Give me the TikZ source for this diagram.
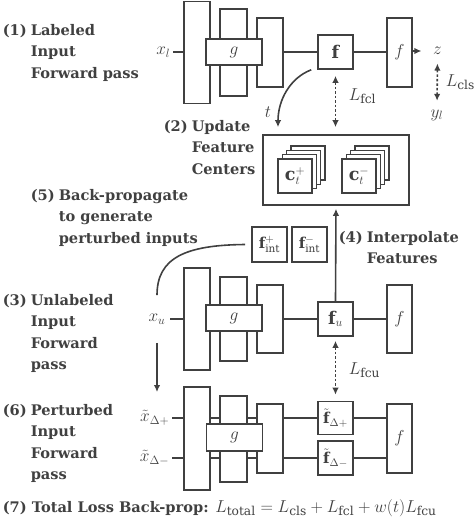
\documentclass[tikz,border=0pt]{standalone}
\usepackage{fontspec}
\setmainfont{DejaVu Serif}
\usetikzlibrary{arrows.meta}
\definecolor{ink}{HTML}{404040}
\newcommand{\stk}[2]{\begin{tabular}[t]{@{}l@{\hspace{4pt}}l@{}}#1&#2\end{tabular}}
\begin{document}
\begin{tikzpicture}[x=1pt,y=-1pt,line width=1.6pt,
  blk/.style 2 args={draw=ink,fill=white,line width=1.6pt,inner sep=0pt,minimum width=#1,minimum height=#2},
  lab/.style={text=ink,inner sep=0pt,font=\fontsize{17.5}{20}\selectfont},
  slab/.style={text=ink,inner sep=0pt,font=\fontsize{15}{18}\selectfont},
  stxt/.style={text=ink,inner sep=0pt,anchor=base west,font=\fontsize{14.6}{21.5}\selectfont\bfseries},
  arr/.style={draw=ink,-{Latex[length=7pt,width=6.5pt]}},
  dbl/.style={draw=ink,{Latex[length=7pt,width=6.5pt]}-{Latex[length=7pt,width=6.5pt]},dash pattern=on 2.5pt off 2pt},
  ln/.style={draw=ink}]
\useasboundingbox (0,0) rectangle (474,517);

% ---------- texts ----------
\node[stxt] (t1) at (2,35) {\stk{(1)}{Labeled\\&Input\\&Forward pass}};
\node[stxt] (t2) at (163,131) {\stk{(2)}{Update\\&Feature\\&Centers}};
\node[stxt] (t5) at (30,200) {\stk{(5)}{Back-propagate\\&to generate\\&perturbed inputs}};
\node[stxt] (t4) at (338,242) {\stk{(4)}{Interpolate\\&Features}};
\node[stxt] (t3) at (2,305) {\stk{(3)}{Unlabeled\\&Input\\&Forward\\&pass}};
\node[stxt] (t6) at (2,415) {\stk{(6)}{Perturbed\\&Input\\&Forward\\&pass}};
\node[stxt] (t7) at (2,512) {(7) Total Loss Back-prop:};
\node[lab,anchor=base west] (eq) at ([xshift=5pt]t7.base east) {$L_{\mathrm{total}} = L_{\mathrm{cls}} + L_{\mathrm{fcl}} + w(t)L_{\mathrm{fcu}}$};

% ---------- row 1 ----------
\node[lab,anchor=east] (xl) at (171,52) {$x_l$};
\node[blk={26pt}{102pt}] (a1) at (197,52.5) {};
\node[blk={27pt}{87pt}] (b1) at (233.5,52.5) {};
\node[blk={26pt}{69pt}] (c1) at (270,52.5) {};
\node[blk={56pt}{26pt},lab] (g1) at (234,52) {$g$};
\node[blk={35pt}{34pt},lab] (f1) at (335.5,52) {$\mathbf{f}$};
\node[blk={25pt}{69pt},lab] (fb1) at (399.5,52.5) {$f$};
\node[lab] (z) at (437.5,51) {$z$};
\node[lab] (yl) at (437,115) {$y_l$};
\node[lab,anchor=west] (Lcls) at (445,82) {$L_{\mathrm{cls}}$};
\draw[ln] ([xshift=2pt]xl.east) -- (a1.west |- xl.east);
\draw[ln] (c1.east |- f1.west) -- (f1.west);
\draw[ln] (f1.east) -- (fb1.west |- f1.east);
\draw[arr,shorten >=11pt] (fb1.east |- z.west) -- (z.west);
\draw[dbl,shorten <=8pt,shorten >=8pt] (z.south) -- (yl.north);

% ---------- centers ----------
\node[blk={146pt}{70pt}] (centers) at (336,170) {};
\foreach \i in {3,2,1}{
  \node[blk={34pt}{34pt}] (cp\i) at ({295+4.33*\i},{176-4.33*\i}) {};
  \node[blk={34pt}{34pt}] (cm\i) at ({359+4.33*\i},{176-4.33*\i}) {};
}
\node[blk={34pt}{34pt},lab] (cp) at (295,176) {$\mathbf{c}_t^+$};
\node[blk={34pt}{34pt},lab] (cm) at (359,176) {$\mathbf{c}_t^-$};
\draw[dbl,shorten <=6pt,shorten >=7pt] (f1.south) -- (f1.south |- centers.north);
\node[lab,anchor=west] (Lfcl) at (348,96) {$L_{\mathrm{fcl}}$};
\coordinate (tx) at (278,0);
\draw[arr,shorten >=7pt] ([xshift=-6pt]f1.south west) .. controls (290,78) and (278,100) .. (tx |- centers.north);
\node[lab] (t) at (268,112) {$t$};

% ---------- f_int ----------
\node[blk={35pt}{35pt},slab] (fip) at (269.5,244.5) {$\mathbf{f}_{\mathrm{int}}^+$};
\node[blk={35pt}{35pt},slab] (fim) at (309.5,244.5) {$\mathbf{f}_{\mathrm{int}}^-$};

% ---------- row 3 ----------
\node[lab,minimum height=46pt,inner xsep=4pt] (xu) at (157,319) {$x_u$};
\node[blk={26pt}{102pt}] (a3) at (197,319) {};
\node[blk={27pt}{84pt}] (b3) at (233.5,319) {};
\node[blk={26pt}{68pt}] (c3) at (270,319) {};
\node[blk={56pt}{26pt},lab] (g3) at (234,318) {$g$};
\node[blk={35pt}{34pt},lab] (fu) at (335.5,319) {$\mathbf{f}_u$};
\node[blk={25pt}{68pt},lab] (fb3) at (399.5,319) {$f$};
\draw[ln] (xu.east) -- (a3.west);
\draw[ln] (c3.east) -- (fu.west);
\draw[ln] (fu.east) -- (fb3.west);
\draw[arr,shorten >=3pt] (fu.north) -- (centers.south);
\draw[ln] ([xshift=-6pt]fip.west) .. controls (185,245) and (157,258) .. (xu.north);
\coordinate (pin) at (157,392);
\draw[arr] (xu.south) -- (pin);

% ---------- row 6 ----------
\node[lab,anchor=east] (xdp) at (170,418) {$\tilde{x}_{\Delta+}$};
\node[lab,anchor=east] (xdm) at (170,458) {$\tilde{x}_{\Delta-}$};
\node[blk={35pt}{33pt},slab] (fdp) at (335.5,418) {$\tilde{\mathbf{f}}_{\Delta+}$};
\node[blk={35pt}{34pt},slab] (fdm) at (335.5,458) {$\tilde{\mathbf{f}}_{\Delta-}$};
\node[blk={25pt}{69pt},lab] (fb6) at (399.5,438.5) {$f$};
\draw[ln] ([xshift=2pt]xdp.east) -- (xdp.east -| fdp.west);
\draw[ln] ([xshift=2pt]xdm.east) -- (xdm.east -| fdm.west);
\draw[ln] (fdp.east) -- (fdp.east -| fb6.west);
\draw[ln] (fdm.east) -- (fdm.east -| fb6.west);
\node[blk={26pt}{103pt}] (a6) at (197,438.5) {};
\node[blk={27pt}{86pt}] (b6) at (233.5,439) {};
\node[blk={26pt}{69pt}] (c6) at (270,438.5) {};
\node[blk={56pt}{27pt},lab] (g6) at (234.5,437.5) {$g$};
\draw[dbl,shorten <=4pt,shorten >=6pt] (fu.south) -- (fdp.north);
\node[lab,anchor=west] (Lfcu) at (348,370) {$L_{\mathrm{fcu}}$};
\end{tikzpicture}
\end{document}
